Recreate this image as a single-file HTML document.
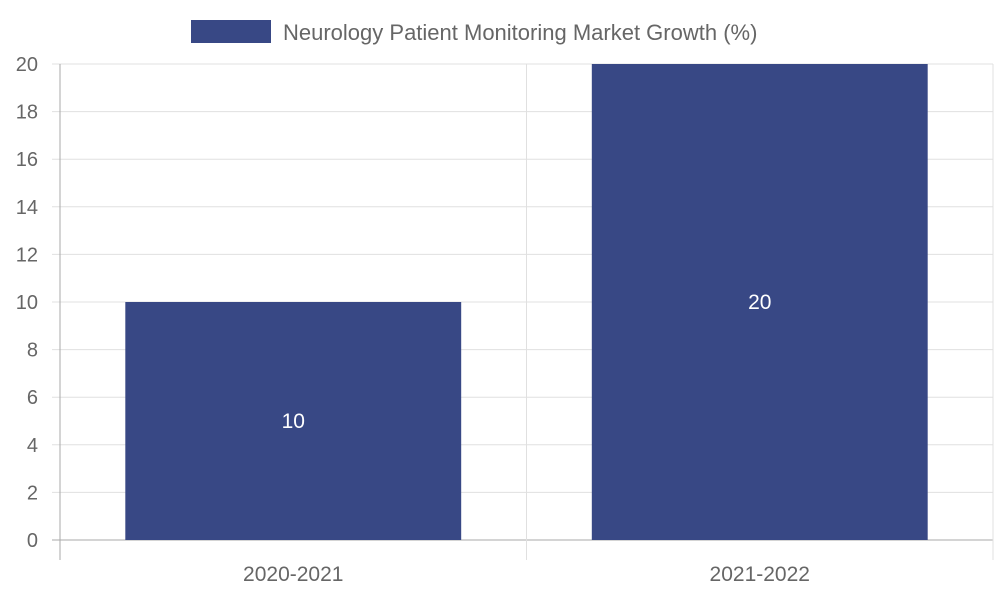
<!DOCTYPE html>
<html><head><meta charset="utf-8"><style>
body{margin:0;background:#fff;}
svg{display:block;font-family:"Liberation Sans",sans-serif;}
</style></head><body>
<svg id="chart" width="1000" height="600">
<g id="grid"></g>
<g id="bars"></g>
<g id="axes"></g>
<g>
<rect x="191" y="20" width="80" height="23" fill="#384885"></rect>
<text x="283" y="40" font-size="22" fill="#666">Neurology Patient Monitoring Market Growth (%)</text>
</g>
</svg>
<script>
const categories=["2020-2021","2021-2022"];
const values=[10,20];
const yTicks=[0,2,4,6,8,10,12,14,16,18,20];
const L=60,R=993,T=64,B=540,yMax=20;
const ns="http://www.w3.org/2000/svg";
function y(v){return B-(v/yMax)*(B-T);}
const bw=(R-L)/categories.length;
function xc(i){return L+bw*(i+0.5);}
function mk(tag,attrs,parent,txt){const e=document.createElementNS(ns,tag);for(const k in attrs)e.setAttribute(k,attrs[k]);if(txt!==undefined)e.textContent=txt;document.getElementById(parent).appendChild(e);return e;}
yTicks.forEach(t=>{
 const g=mk('line',{x1:L-8,x2:R,y1:y(t),y2:y(t),stroke:t===0?'#aaa':'#e0e0e0','stroke-width':1},'grid');
 
 
 const lb=mk('text',{x:38,y:y(t)+7,'text-anchor':'end','font-size':20,fill:'#666'},'axes',String(t));
 
 
});
for(let i=0;i<=categories.length;i++){
 const xx=L+bw*i;
 const g=mk('line',{x1:xx,x2:xx,y1:T,y2:B+20,stroke:i===0?'#aaa':'#e0e0e0','stroke-width':1},'grid');
 
 
}
categories.forEach((c,i)=>{
 const w=bw*0.72;
 const r=mk('rect',{x:xc(i)-w/2,y:y(values[i]),width:w,height:B-y(values[i]),fill:'#384885'},'bars');
 
 
 const v=mk('text',{x:xc(i),y:(y(values[i])+B)/2+7,'text-anchor':'middle','font-size':21,fill:'#fff'},'bars',String(values[i]));
 
 
 const xl=mk('text',{x:xc(i),y:581,'text-anchor':'middle','font-size':21,fill:'#666'},'axes',c);
 
 
});
</script>
</body></html>
